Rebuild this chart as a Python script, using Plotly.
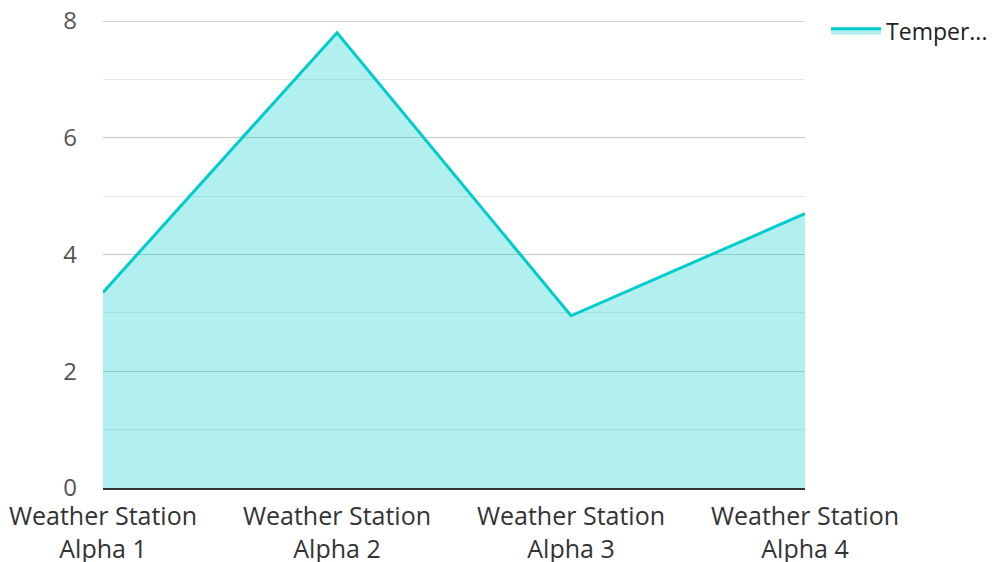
import plotly.graph_objects as go

stations = ["Weather Station<br>Alpha 1", "Weather Station<br>Alpha 2",
            "Weather Station<br>Alpha 3", "Weather Station<br>Alpha 4"]
temperature = [3.35, 7.8, 2.95, 4.7]
series_name = "Temper..."
y_ticks = [0, 2, 4, 6, 8]

fig = go.Figure()
fig.add_trace(go.Scatter(
    x=stations,
    y=temperature,
    name=series_name,
    mode="lines",
    line=dict(color="#00cccc", width=3),
    fill="tozeroy",
    fillcolor="rgba(0,204,204,0.30)",
    showlegend=True,
))

# top gridline sits on the plot edge, so draw it explicitly
fig.add_hline(y=y_ticks[-1], line=dict(color="#c8c8c8", width=1.5), layer="below")

fig.update_layout(
    width=995,
    height=562,
    margin=dict(l=103, r=190, t=21, b=74, autoexpand=False),
    paper_bgcolor="white",
    plot_bgcolor="white",
    font=dict(family="Open Sans", size=25, color="#444"),
    legend=dict(
        x=1.03, y=1.025, xanchor="left", yanchor="top",
        itemwidth=50,
        font=dict(size=23, color="#222"),
        bgcolor="rgba(0,0,0,0)",
    ),
)

fig.update_xaxes(
    range=[0, 3],
    automargin=False,
    showgrid=False,
    showline=True,
    linecolor="#333",
    linewidth=2,
    ticks="",
    ticklabelstandoff=5,
    tickfont=dict(size=25, color="#333"),
)

fig.update_yaxes(
    range=[0, 8],
    automargin=False,
    tickvals=y_ticks,
    showgrid=True,
    gridcolor="#c8c8c8",
    gridwidth=1,
    zeroline=False,
    ticks="",
    ticklabelstandoff=25,
    tickfont=dict(size=24, color="#555"),
    minor=dict(dtick=1, showgrid=True, gridcolor="#e8e8e8", gridwidth=1),
)

fig.write_html("out.html")
